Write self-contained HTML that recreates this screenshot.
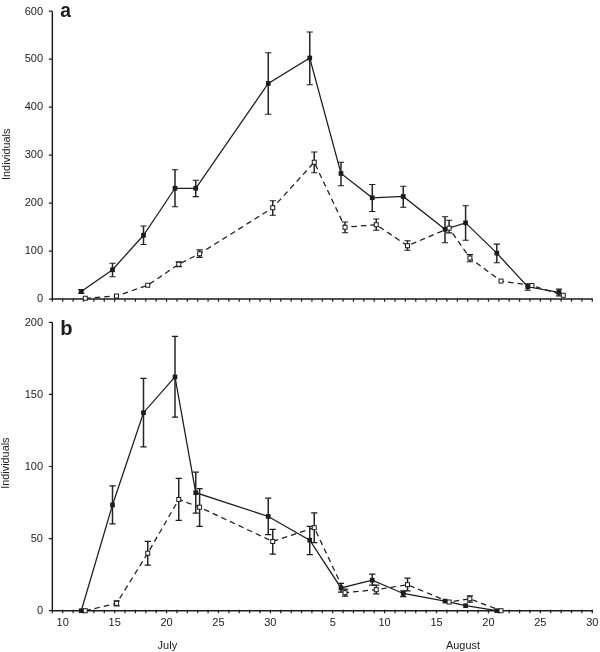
<!DOCTYPE html>
<html lang="en"><head><meta charset="utf-8"><title>Figure</title>
<style>html,body{margin:0;padding:0;background:#fff}body{width:600px;height:652px;overflow:hidden}</style></head>
<body>
<svg width="600" height="652" viewBox="0 0 600 652" style="display:block">
<rect width="600" height="652" fill="#fff"/>
<g font-family="'Liberation Sans', Arial, sans-serif" font-size="11" fill="#1c1c1c">
<path d="M52.35 11.2V299.05H592.77" fill="none" stroke="#1c1c1c" stroke-width="1.45"/>
<path d="M52.35 299.05v2.7M62.73 299.05v2.7M73.12 299.05v2.7M83.5 299.05v2.7M93.88 299.05v2.7M104.26 299.05v2.7M114.65 299.05v2.7M125.03 299.05v2.7M135.41 299.05v2.7M145.8 299.05v2.7M156.18 299.05v2.7M166.56 299.05v2.7M176.95 299.05v2.7M187.33 299.05v2.7M197.71 299.05v2.7M208.09 299.05v2.7M218.48 299.05v2.7M228.86 299.05v2.7M239.24 299.05v2.7M249.63 299.05v2.7M260.01 299.05v2.7M270.39 299.05v2.7M280.78 299.05v2.7M291.16 299.05v2.7M301.54 299.05v2.7M311.93 299.05v2.7M322.31 299.05v2.7M332.69 299.05v2.7M343.07 299.05v2.7M353.46 299.05v2.7M363.84 299.05v2.7M374.22 299.05v2.7M384.61 299.05v2.7M394.99 299.05v2.7M405.37 299.05v2.7M415.75 299.05v2.7M426.14 299.05v2.7M436.52 299.05v2.7M446.9 299.05v2.7M457.29 299.05v2.7M467.67 299.05v2.7M478.05 299.05v2.7M488.44 299.05v2.7M498.82 299.05v2.7M509.2 299.05v2.7M519.58 299.05v2.7M529.97 299.05v2.7M540.35 299.05v2.7M550.73 299.05v2.7M561.12 299.05v2.7M571.5 299.05v2.7M581.88 299.05v2.7M592.27 299.05v2.7" fill="none" stroke="#1c1c1c" stroke-width="1.2"/>
<text x="43" y="302.35" text-anchor="end">0</text>
<text x="43" y="254.38" text-anchor="end">100</text>
<text x="43" y="206.4" text-anchor="end">200</text>
<text x="43" y="158.43" text-anchor="end">300</text>
<text x="43" y="110.45" text-anchor="end">400</text>
<text x="43" y="62.48" text-anchor="end">500</text>
<text x="43" y="14.5" text-anchor="end">600</text>
<path d="M48.85 299.05h3.5M48.85 251.08h3.5M48.85 203.1h3.5M48.85 155.12h3.5M48.85 107.15h3.5M48.85 59.18h3.5M48.85 11.2h3.5" fill="none" stroke="#1c1c1c" stroke-width="1.2"/>
<path d="M81.25 291.55L112.5 269.75L143.5 235.25L175 188.25L195.75 188.25L268.25 83.5L309.75 58L341 173.5L372.25 197.75L403.25 196.5L445 229.35L465.6 222.85L496.8 253.15L527.7 286.75L559 292.35" fill="none" stroke="#1c1c1c" stroke-width="1.25"/>
<path d="M85.25 298.25L116.5 296L147.75 285.25L178.75 264.25L199.6 253.75L272.75 207.75L314.25 162.25L345 227.25L376.25 224.75L407.5 245.75L449.1 228.15L469.9 258.05L501 281.05L531.9 285.55L563.3 295.25" fill="none" stroke="#1c1c1c" stroke-width="1.25" stroke-dasharray="5.5 4"/>
<path d="M81.25 289.65V293.45M112.5 263.25V276.75M143.5 226V244.5M175 169.75V206.75M195.75 180.25V196.65M268.25 52.75V114.25M309.75 32V84.75M341 162.25V185.75M372.25 184.5V211.5M403.25 186.25V207.25M445 216.75V242.75M465.6 205.75V240.25M496.8 244.15V262.75M527.7 283.75V290.25M559 289.15V295.85" fill="none" stroke="#262626" stroke-width="1.5"/><path d="M78.15 289.65h6.2M78.15 293.45h6.2M109.4 263.25h6.2M109.4 276.75h6.2M140.4 226h6.2M140.4 244.5h6.2M171.9 169.75h6.2M171.9 206.75h6.2M192.65 180.25h6.2M192.65 196.65h6.2M265.15 52.75h6.2M265.15 114.25h6.2M306.65 32h6.2M306.65 84.75h6.2M337.9 162.25h6.2M337.9 185.75h6.2M369.15 184.5h6.2M369.15 211.5h6.2M400.15 186.25h6.2M400.15 207.25h6.2M441.9 216.75h6.2M441.9 242.75h6.2M462.5 205.75h6.2M462.5 240.25h6.2M493.7 244.15h6.2M493.7 262.75h6.2M524.6 283.75h6.2M524.6 290.25h6.2M555.9 289.15h6.2M555.9 295.85h6.2" fill="none" stroke="#1c1c1c" stroke-width="1.2"/>
<path d="M178.75 261.95V266.55M199.6 249.95V257.35M272.75 200.75V215.25M314.25 152V172.75M345 222V232.75M376.25 219V230.25M407.5 240.75V250.25M449.1 220.25V232.85M469.9 254.65V261.75" fill="none" stroke="#262626" stroke-width="1.5"/><path d="M175.65 261.95h6.2M175.65 266.55h6.2M196.5 249.95h6.2M196.5 257.35h6.2M269.65 200.75h6.2M269.65 215.25h6.2M311.15 152h6.2M311.15 172.75h6.2M341.9 222h6.2M341.9 232.75h6.2M373.15 219h6.2M373.15 230.25h6.2M404.4 240.75h6.2M404.4 250.25h6.2M446 220.25h6.2M446 232.85h6.2M466.8 254.65h6.2M466.8 261.75h6.2" fill="none" stroke="#1c1c1c" stroke-width="1.2"/>
<rect x="78.9" y="289.2" width="4.7" height="4.7" fill="#1c1c1c"/><rect x="110.15" y="267.4" width="4.7" height="4.7" fill="#1c1c1c"/><rect x="141.15" y="232.9" width="4.7" height="4.7" fill="#1c1c1c"/><rect x="172.65" y="185.9" width="4.7" height="4.7" fill="#1c1c1c"/><rect x="193.4" y="185.9" width="4.7" height="4.7" fill="#1c1c1c"/><rect x="265.9" y="81.15" width="4.7" height="4.7" fill="#1c1c1c"/><rect x="307.4" y="55.65" width="4.7" height="4.7" fill="#1c1c1c"/><rect x="338.65" y="171.15" width="4.7" height="4.7" fill="#1c1c1c"/><rect x="369.9" y="195.4" width="4.7" height="4.7" fill="#1c1c1c"/><rect x="400.9" y="194.15" width="4.7" height="4.7" fill="#1c1c1c"/><rect x="442.65" y="227" width="4.7" height="4.7" fill="#1c1c1c"/><rect x="463.25" y="220.5" width="4.7" height="4.7" fill="#1c1c1c"/><rect x="494.45" y="250.8" width="4.7" height="4.7" fill="#1c1c1c"/><rect x="525.35" y="284.4" width="4.7" height="4.7" fill="#1c1c1c"/><rect x="556.65" y="290" width="4.7" height="4.7" fill="#1c1c1c"/>
<rect x="83.25" y="296.25" width="4" height="4" fill="#fff" stroke="#1c1c1c" stroke-width="1"/><rect x="114.5" y="294" width="4" height="4" fill="#fff" stroke="#1c1c1c" stroke-width="1"/><rect x="145.75" y="283.25" width="4" height="4" fill="#fff" stroke="#1c1c1c" stroke-width="1"/><rect x="176.75" y="262.25" width="4" height="4" fill="#fff" stroke="#1c1c1c" stroke-width="1"/><rect x="197.6" y="251.75" width="4" height="4" fill="#fff" stroke="#1c1c1c" stroke-width="1"/><rect x="270.75" y="205.75" width="4" height="4" fill="#fff" stroke="#1c1c1c" stroke-width="1"/><rect x="312.25" y="160.25" width="4" height="4" fill="#fff" stroke="#1c1c1c" stroke-width="1"/><rect x="343" y="225.25" width="4" height="4" fill="#fff" stroke="#1c1c1c" stroke-width="1"/><rect x="374.25" y="222.75" width="4" height="4" fill="#fff" stroke="#1c1c1c" stroke-width="1"/><rect x="405.5" y="243.75" width="4" height="4" fill="#fff" stroke="#1c1c1c" stroke-width="1"/><rect x="447.1" y="226.15" width="4" height="4" fill="#fff" stroke="#1c1c1c" stroke-width="1"/><rect x="467.9" y="256.05" width="4" height="4" fill="#fff" stroke="#1c1c1c" stroke-width="1"/><rect x="499" y="279.05" width="4" height="4" fill="#fff" stroke="#1c1c1c" stroke-width="1"/><rect x="529.9" y="283.55" width="4" height="4" fill="#fff" stroke="#1c1c1c" stroke-width="1"/><rect x="561.3" y="293.25" width="4" height="4" fill="#fff" stroke="#1c1c1c" stroke-width="1"/>
<path d="M52.35 322.3V610.7H592.77" fill="none" stroke="#1c1c1c" stroke-width="1.45"/>
<path d="M52.35 609.7v3.6M62.73 609.7v3.6M73.12 609.7v3.6M83.5 609.7v3.6M93.88 609.7v3.6M104.26 609.7v3.6M114.65 609.7v3.6M125.03 609.7v3.6M135.41 609.7v3.6M145.8 609.7v3.6M156.18 609.7v3.6M166.56 609.7v3.6M176.95 609.7v3.6M187.33 609.7v3.6M197.71 609.7v3.6M208.09 609.7v3.6M218.48 609.7v3.6M228.86 609.7v3.6M239.24 609.7v3.6M249.63 609.7v3.6M260.01 609.7v3.6M270.39 609.7v3.6M280.78 609.7v3.6M291.16 609.7v3.6M301.54 609.7v3.6M311.93 609.7v3.6M322.31 609.7v3.6M332.69 609.7v3.6M343.07 609.7v3.6M353.46 609.7v3.6M363.84 609.7v3.6M374.22 609.7v3.6M384.61 609.7v3.6M394.99 609.7v3.6M405.37 609.7v3.6M415.75 609.7v3.6M426.14 609.7v3.6M436.52 609.7v3.6M446.9 609.7v3.6M457.29 609.7v3.6M467.67 609.7v3.6M478.05 609.7v3.6M488.44 609.7v3.6M498.82 609.7v3.6M509.2 609.7v3.6M519.58 609.7v3.6M529.97 609.7v3.6M540.35 609.7v3.6M550.73 609.7v3.6M561.12 609.7v3.6M571.5 609.7v3.6M581.88 609.7v3.6M592.27 609.7v3.6" fill="none" stroke="#1c1c1c" stroke-width="1.2"/>
<text x="43" y="614" text-anchor="end">0</text>
<text x="43" y="541.9" text-anchor="end">50</text>
<text x="43" y="469.8" text-anchor="end">100</text>
<text x="43" y="397.7" text-anchor="end">150</text>
<text x="43" y="325.6" text-anchor="end">200</text>
<path d="M48.85 610.7h3.5M48.85 538.6h3.5M48.85 466.5h3.5M48.85 394.4h3.5M48.85 322.3h3.5" fill="none" stroke="#1c1c1c" stroke-width="1.2"/>
<path d="M81.25 610.7L112.5 504.95L143.5 412.7L175 376.95L195.75 492.7L268.25 516.45L309.75 540.2L341 587.95L372.25 580.2L403.25 593.45L445 601.1L465.6 605.7L496.8 610.7" fill="none" stroke="#1c1c1c" stroke-width="1.25"/>
<path d="M85.25 610.7L116.6 603.3L147.75 553.2L178.75 499.45L199.6 507.2L272.75 541.45L314.25 527.7L345 592.7L376.25 589.7L407.5 584.7L449.1 602L469.8 598.8L501 610.7" fill="none" stroke="#1c1c1c" stroke-width="1.25" stroke-dasharray="5.5 4"/>
<path d="M112.5 485.95V523.95M143.5 378.45V446.95M175 336.45V417.2M195.75 472.2V513.2M268.25 498.2V534.7M309.75 526.45V554.7M341 583.45V592.2M372.25 574.2V585.2M403.25 590.95V596.7" fill="none" stroke="#262626" stroke-width="1.5"/><path d="M109.4 485.95h6.2M109.4 523.95h6.2M140.4 378.45h6.2M140.4 446.95h6.2M171.9 336.45h6.2M171.9 417.2h6.2M192.65 472.2h6.2M192.65 513.2h6.2M265.15 498.2h6.2M265.15 534.7h6.2M306.65 526.45h6.2M306.65 554.7h6.2M337.9 583.45h6.2M337.9 592.2h6.2M369.15 574.2h6.2M369.15 585.2h6.2M400.15 590.95h6.2M400.15 596.7h6.2" fill="none" stroke="#1c1c1c" stroke-width="1.2"/>
<path d="M116.6 600.8V605.8M147.75 541.45V565.2M178.75 478.45V520.45M199.6 488.7V526.45M272.75 529.45V554.2M314.25 512.95V542.7M345 589.2V596.2M376.25 585.2V593.95M407.5 578.2V590.95M469.8 595.8V602.2" fill="none" stroke="#262626" stroke-width="1.5"/><path d="M113.5 600.8h6.2M113.5 605.8h6.2M144.65 541.45h6.2M144.65 565.2h6.2M175.65 478.45h6.2M175.65 520.45h6.2M196.5 488.7h6.2M196.5 526.45h6.2M269.65 529.45h6.2M269.65 554.2h6.2M311.15 512.95h6.2M311.15 542.7h6.2M341.9 589.2h6.2M341.9 596.2h6.2M373.15 585.2h6.2M373.15 593.95h6.2M404.4 578.2h6.2M404.4 590.95h6.2M466.7 595.8h6.2M466.7 602.2h6.2" fill="none" stroke="#1c1c1c" stroke-width="1.2"/>
<rect x="78.9" y="608.35" width="4.7" height="4.7" fill="#1c1c1c"/><rect x="110.15" y="502.6" width="4.7" height="4.7" fill="#1c1c1c"/><rect x="141.15" y="410.35" width="4.7" height="4.7" fill="#1c1c1c"/><rect x="172.65" y="374.6" width="4.7" height="4.7" fill="#1c1c1c"/><rect x="193.4" y="490.35" width="4.7" height="4.7" fill="#1c1c1c"/><rect x="265.9" y="514.1" width="4.7" height="4.7" fill="#1c1c1c"/><rect x="307.4" y="537.85" width="4.7" height="4.7" fill="#1c1c1c"/><rect x="338.65" y="585.6" width="4.7" height="4.7" fill="#1c1c1c"/><rect x="369.9" y="577.85" width="4.7" height="4.7" fill="#1c1c1c"/><rect x="400.9" y="591.1" width="4.7" height="4.7" fill="#1c1c1c"/><rect x="442.65" y="598.75" width="4.7" height="4.7" fill="#1c1c1c"/><rect x="463.25" y="603.35" width="4.7" height="4.7" fill="#1c1c1c"/><rect x="494.45" y="608.35" width="4.7" height="4.7" fill="#1c1c1c"/>
<rect x="83.25" y="608.7" width="4" height="4" fill="#fff" stroke="#1c1c1c" stroke-width="1"/><rect x="114.6" y="601.3" width="4" height="4" fill="#fff" stroke="#1c1c1c" stroke-width="1"/><rect x="145.75" y="551.2" width="4" height="4" fill="#fff" stroke="#1c1c1c" stroke-width="1"/><rect x="176.75" y="497.45" width="4" height="4" fill="#fff" stroke="#1c1c1c" stroke-width="1"/><rect x="197.6" y="505.2" width="4" height="4" fill="#fff" stroke="#1c1c1c" stroke-width="1"/><rect x="270.75" y="539.45" width="4" height="4" fill="#fff" stroke="#1c1c1c" stroke-width="1"/><rect x="312.25" y="525.7" width="4" height="4" fill="#fff" stroke="#1c1c1c" stroke-width="1"/><rect x="343" y="590.7" width="4" height="4" fill="#fff" stroke="#1c1c1c" stroke-width="1"/><rect x="374.25" y="587.7" width="4" height="4" fill="#fff" stroke="#1c1c1c" stroke-width="1"/><rect x="405.5" y="582.7" width="4" height="4" fill="#fff" stroke="#1c1c1c" stroke-width="1"/><rect x="447.1" y="600" width="4" height="4" fill="#fff" stroke="#1c1c1c" stroke-width="1"/><rect x="467.8" y="596.8" width="4" height="4" fill="#fff" stroke="#1c1c1c" stroke-width="1"/><rect x="499" y="608.7" width="4" height="4" fill="#fff" stroke="#1c1c1c" stroke-width="1"/>
<text x="62.73" y="626.3" text-anchor="middle">10</text>
<text x="114.65" y="626.3" text-anchor="middle">15</text>
<text x="166.56" y="626.3" text-anchor="middle">20</text>
<text x="218.48" y="626.3" text-anchor="middle">25</text>
<text x="270.39" y="626.3" text-anchor="middle">30</text>
<text x="332.69" y="626.3" text-anchor="middle">5</text>
<text x="384.61" y="626.3" text-anchor="middle">10</text>
<text x="436.52" y="626.3" text-anchor="middle">15</text>
<text x="488.44" y="626.3" text-anchor="middle">20</text>
<text x="540.35" y="626.3" text-anchor="middle">25</text>
<text x="592.27" y="626.3" text-anchor="middle">30</text>
<text x="167.4" y="648.8" text-anchor="middle" font-size="11">July</text>
<text x="463" y="648.8" text-anchor="middle" font-size="10.9">August</text>
<text transform="translate(9.5 154.3) rotate(-90)" text-anchor="middle" font-size="10.85">Individuals</text>
<text transform="translate(9.45 463.1) rotate(-90)" text-anchor="middle" font-size="10.85">Individuals</text>
<text x="60.3" y="16.6" font-size="19.3" font-weight="bold">a</text>
<text x="60.3" y="334.6" font-size="20.2" font-weight="bold">b</text>
</g></svg>
</body></html>
